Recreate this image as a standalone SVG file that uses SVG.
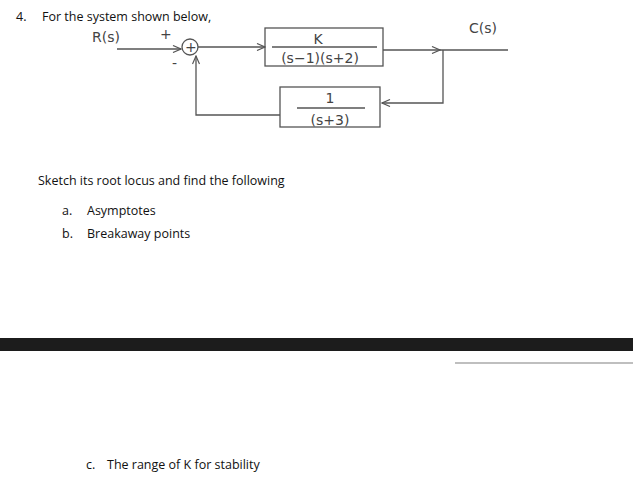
<svg xmlns="http://www.w3.org/2000/svg" width="633" height="480" viewBox="0 0 633 480">
<style>
.t{font-family:"Open Sans","Liberation Sans",sans-serif;font-size:12.5px;fill:#111}
.h{font-family:"DejaVu Sans",sans-serif;font-size:14px;fill:#444}
.l{stroke:#555;stroke-width:1.3;fill:none}
</style>
<defs><marker id="a" markerWidth="10" markerHeight="8" refX="9" refY="4" orient="auto" markerUnits="userSpaceOnUse"><path d="M1,0.5 L9,4 L1,7.5" fill="none" stroke="#555" stroke-width="1.2"/></marker></defs>
<rect width="633" height="480" fill="#fff"/>
<text class="t" x="16" y="21">4.<tspan x="42">For the system shown below,</tspan></text>
<g id="labels">
<text class="h" x="92" y="42">R(s)</text>
<text class="h" x="160" y="39">+</text>
<text class="h" x="172" y="68">-</text>
<text class="h" x="469" y="33">C(s)</text>
</g>
<g id="sum"><circle cx="190" cy="47" r="8" class="l"/><text class="h" x="185" y="52" font-size="12">+</text></g>
<g id="G"><rect x="265" y="28" width="118" height="38" class="l"/><text class="h" x="318" y="44" text-anchor="middle">K</text><line x1="272" y1="47" x2="377" y2="47" class="l"/><text class="h" x="320" y="63" text-anchor="middle">(s−1)(s+2)</text></g>
<g id="H"><rect x="280" y="87" width="100" height="40" class="l"/><text class="h" x="330" y="103" text-anchor="middle">1</text><line x1="297" y1="108" x2="365" y2="108" class="l"/><text class="h" x="330" y="125" text-anchor="middle">(s+3)</text></g>
<g id="connectors">
<line x1="117" y1="49" x2="181" y2="49" class="l" marker-end="url(#a)"/>
<line x1="198" y1="47" x2="265" y2="47" class="l" marker-end="url(#a)"/>
<line x1="383" y1="50" x2="440" y2="50" class="l" marker-end="url(#a)"/>
<line x1="440" y1="50" x2="508" y2="50" class="l"/>
<path d="M443,50 V103 H382" class="l" marker-end="url(#a)"/>
<path d="M280,115 H196 V56" class="l" marker-end="url(#a)"/>
</g>
<text class="t" x="38" y="185">Sketch its root locus and find the following</text>
<text class="t" x="62" y="215">a.<tspan x="87">Asymptotes</tspan></text>
<text class="t" x="62" y="238">b.<tspan x="87">Breakaway points</tspan></text>
<rect x="0" y="338" width="633" height="13" fill="#1c1c1c"/>
<line x1="455" y1="363" x2="633" y2="363" stroke="#aaa" stroke-width="1.5"/>
<text class="t" x="86" y="469">c.<tspan x="107">The range of K for stability</tspan></text>
</svg>
